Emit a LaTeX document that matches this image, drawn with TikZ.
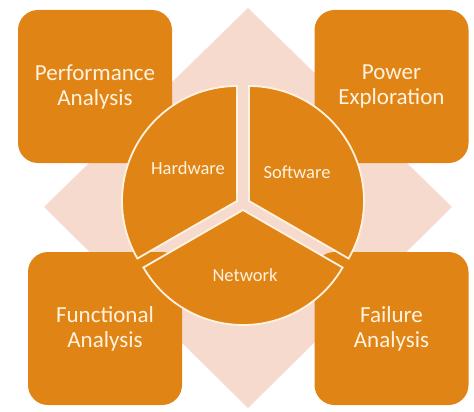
\documentclass[tikz,border=0pt]{standalone}
\usepackage{fontspec}
\setmainfont{Carlito}
\definecolor{orng}{HTML}{E18416}
\definecolor{pinkbg}{HTML}{F6DACE}
\definecolor{cream}{HTML}{FFF3E0}
\begin{document}
\begin{tikzpicture}[x=1pt,y=-1pt,
  box/.style={fill=orng,rounded corners=20pt,minimum width=154pt,minimum height=153pt,
    align=center,text=cream,font=\fontsize{23}{25}\selectfont,inner sep=0pt},
  sector/.style={fill=orng,draw=cream,line width=1.8pt,line join=miter},
  seclabel/.style={text=cream,font=\fontsize{18.5}{20}\selectfont,inner sep=0pt}]
\useasboundingbox (0,0) rectangle (474,412);
% background diamond
\fill[pinkbg] (248,8) -- (452,207) -- (248,408) -- (44,207) -- cycle;
% boxes
\node[box] (perf) at (95,86.5) {Performance\\Analysis};
\node[box] (power) at (391.5,86.5) {Power\\Exploration};
\node[box] (func) at (105,328.5) {Functional\\Analysis};
\node[box] (fail) at (391.5,328.5) {Failure\\Analysis};
% exploded pie (angles negated because y points down)
\coordinate (hv) at (237,201);
\coordinate (sv) at (249,201);
\coordinate (nv) at (243,210);
\draw[sector] (hv) -- ++(-90:115) arc[start angle=-90,end angle=-210,radius=115] -- cycle;
\draw[sector] (sv) -- ++(-90:115) arc[start angle=-90,end angle=30,radius=115] -- cycle;
\draw[sector] (nv) -- ++(-210:115) arc[start angle=-210,end angle=-330,radius=115] -- cycle;
\node[seclabel] (hw) at (188,168) {Hardware};
\node[seclabel] (sw) at (297,172) {Software};
\node[seclabel] (nw) at (245,275) {Network};
\end{tikzpicture}
\end{document}
